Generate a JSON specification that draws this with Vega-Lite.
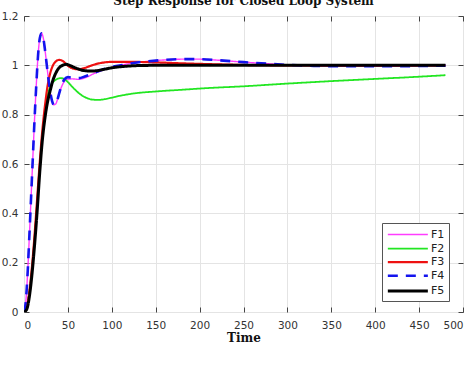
{
  "$schema": "https://vega.github.io/schema/vega-lite/v6.json",
  "width": 439,
  "height": 296,
  "autosize": "none",
  "padding": {"left": 24, "top": 16, "right": 11, "bottom": 60},
  "title": {"text": "Step Response for Closed Loop System", "font": "DejaVu Serif", "fontSize": 12, "fontWeight": "bold", "offset": 3, "color": "#111"},
  "config": {
    "view": {"stroke": "#444", "strokeWidth": 1},
    "axis": {"gridColor": "#e4e4e4", "domain": false, "tickColor": "#444", "tickSize": -5, "labelFont": "DejaVu Sans", "labelFontSize": 10.5, "labelColor": "#333", "titleFont": "DejaVu Serif", "titleFontWeight": "bold", "titleFontSize": 12, "titleColor": "#111"},
    "legend": {"orient": "none", "legendX": 358, "legendY": 207, "title": null, "symbolType": "M-1,0H5", "symbolSize": 178, "labelFont": "DejaVu Sans", "labelFontSize": 11, "labelColor": "#222", "labelOffset": 28, "labelLimit": 20, "strokeColor": "#555", "fillColor": "white", "padding": 4, "rowPadding": 0.6, "columnPadding": 0}
  },
  "data": {"values": [
    {"s":"F1","t":0,"v":0},{"s":"F1","t":2,"v":0.04},{"s":"F1","t":4,"v":0.15},{"s":"F1","t":6,"v":0.3},{"s":"F1","t":8,"v":0.46},{"s":"F1","t":10,"v":0.62},{"s":"F1","t":12,"v":0.78},{"s":"F1","t":14,"v":0.92},{"s":"F1","t":16,"v":1.04},{"s":"F1","t":18,"v":1.11},{"s":"F1","t":20,"v":1.13},{"s":"F1","t":22,"v":1.11},{"s":"F1","t":24,"v":1.06},{"s":"F1","t":26,"v":1.0},{"s":"F1","t":28,"v":0.94},{"s":"F1","t":30,"v":0.89},{"s":"F1","t":32,"v":0.855},{"s":"F1","t":34,"v":0.84},{"s":"F1","t":36,"v":0.843},{"s":"F1","t":38,"v":0.86},{"s":"F1","t":40,"v":0.885},{"s":"F1","t":43,"v":0.915},{"s":"F1","t":46,"v":0.935},{"s":"F1","t":50,"v":0.944},{"s":"F1","t":55,"v":0.945},{"s":"F1","t":62,"v":0.943},{"s":"F1","t":70,"v":0.95},{"s":"F1","t":80,"v":0.967},{"s":"F1","t":90,"v":0.981},{"s":"F1","t":100,"v":0.992},{"s":"F1","t":110,"v":1.0},{"s":"F1","t":120,"v":1.007},{"s":"F1","t":140,"v":1.016},{"s":"F1","t":160,"v":1.022},{"s":"F1","t":180,"v":1.025},{"s":"F1","t":200,"v":1.025},{"s":"F1","t":220,"v":1.021},{"s":"F1","t":250,"v":1.013},{"s":"F1","t":280,"v":1.006},{"s":"F1","t":300,"v":1.002},{"s":"F1","t":330,"v":0.998},{"s":"F1","t":360,"v":0.996},{"s":"F1","t":400,"v":0.996},{"s":"F1","t":440,"v":0.997},{"s":"F1","t":480,"v":0.999},
    {"s":"F2","t":0,"v":0},{"s":"F2","t":3,"v":0.02},{"s":"F2","t":6,"v":0.07},{"s":"F2","t":9,"v":0.16},{"s":"F2","t":12,"v":0.29},{"s":"F2","t":15,"v":0.43},{"s":"F2","t":18,"v":0.58},{"s":"F2","t":21,"v":0.71},{"s":"F2","t":24,"v":0.81},{"s":"F2","t":27,"v":0.88},{"s":"F2","t":30,"v":0.915},{"s":"F2","t":34,"v":0.935},{"s":"F2","t":38,"v":0.945},{"s":"F2","t":42,"v":0.948},{"s":"F2","t":46,"v":0.944},{"s":"F2","t":50,"v":0.932},{"s":"F2","t":55,"v":0.913},{"s":"F2","t":60,"v":0.895},{"s":"F2","t":66,"v":0.878},{"s":"F2","t":72,"v":0.867},{"s":"F2","t":78,"v":0.861},{"s":"F2","t":85,"v":0.86},{"s":"F2","t":92,"v":0.863},{"s":"F2","t":100,"v":0.869},{"s":"F2","t":110,"v":0.877},{"s":"F2","t":125,"v":0.886},{"s":"F2","t":150,"v":0.894},{"s":"F2","t":180,"v":0.901},{"s":"F2","t":210,"v":0.908},{"s":"F2","t":250,"v":0.915},{"s":"F2","t":300,"v":0.926},{"s":"F2","t":350,"v":0.936},{"s":"F2","t":400,"v":0.945},{"s":"F2","t":440,"v":0.952},{"s":"F2","t":480,"v":0.96},
    {"s":"F3","t":0,"v":0},{"s":"F3","t":3,"v":0.02},{"s":"F3","t":6,"v":0.08},{"s":"F3","t":9,"v":0.18},{"s":"F3","t":12,"v":0.31},{"s":"F3","t":15,"v":0.46},{"s":"F3","t":18,"v":0.61},{"s":"F3","t":21,"v":0.74},{"s":"F3","t":24,"v":0.84},{"s":"F3","t":27,"v":0.92},{"s":"F3","t":30,"v":0.97},{"s":"F3","t":33,"v":1.0},{"s":"F3","t":36,"v":1.015},{"s":"F3","t":40,"v":1.022},{"s":"F3","t":44,"v":1.018},{"s":"F3","t":48,"v":1.005},{"s":"F3","t":52,"v":0.993},{"s":"F3","t":57,"v":0.986},{"s":"F3","t":62,"v":0.984},{"s":"F3","t":68,"v":0.988},{"s":"F3","t":75,"v":0.997},{"s":"F3","t":82,"v":1.005},{"s":"F3","t":90,"v":1.011},{"s":"F3","t":100,"v":1.014},{"s":"F3","t":120,"v":1.014},{"s":"F3","t":150,"v":1.012},{"s":"F3","t":180,"v":1.008},{"s":"F3","t":220,"v":1.004},{"s":"F3","t":260,"v":1.001},{"s":"F3","t":300,"v":1.0},{"s":"F3","t":480,"v":1.0},
    {"s":"F4","t":0,"v":0},{"s":"F4","t":2,"v":0.04},{"s":"F4","t":4,"v":0.15},{"s":"F4","t":6,"v":0.3},{"s":"F4","t":8,"v":0.46},{"s":"F4","t":10,"v":0.62},{"s":"F4","t":12,"v":0.78},{"s":"F4","t":14,"v":0.92},{"s":"F4","t":16,"v":1.04},{"s":"F4","t":18,"v":1.11},{"s":"F4","t":20,"v":1.13},{"s":"F4","t":22,"v":1.11},{"s":"F4","t":24,"v":1.06},{"s":"F4","t":26,"v":1.0},{"s":"F4","t":28,"v":0.94},{"s":"F4","t":30,"v":0.89},{"s":"F4","t":32,"v":0.855},{"s":"F4","t":34,"v":0.84},{"s":"F4","t":36,"v":0.843},{"s":"F4","t":38,"v":0.86},{"s":"F4","t":40,"v":0.885},{"s":"F4","t":43,"v":0.92},{"s":"F4","t":46,"v":0.943},{"s":"F4","t":50,"v":0.952},{"s":"F4","t":55,"v":0.95},{"s":"F4","t":62,"v":0.948},{"s":"F4","t":70,"v":0.956},{"s":"F4","t":80,"v":0.97},{"s":"F4","t":90,"v":0.983},{"s":"F4","t":100,"v":0.993},{"s":"F4","t":110,"v":1.0},{"s":"F4","t":120,"v":1.007},{"s":"F4","t":140,"v":1.016},{"s":"F4","t":160,"v":1.022},{"s":"F4","t":180,"v":1.025},{"s":"F4","t":200,"v":1.025},{"s":"F4","t":220,"v":1.021},{"s":"F4","t":250,"v":1.013},{"s":"F4","t":280,"v":1.006},{"s":"F4","t":300,"v":1.002},{"s":"F4","t":330,"v":0.998},{"s":"F4","t":360,"v":0.996},{"s":"F4","t":400,"v":0.996},{"s":"F4","t":440,"v":0.997},{"s":"F4","t":480,"v":0.999},
    {"s":"F5","t":0,"v":0},{"s":"F5","t":3,"v":0.01},{"s":"F5","t":6,"v":0.06},{"s":"F5","t":9,"v":0.15},{"s":"F5","t":12,"v":0.27},{"s":"F5","t":15,"v":0.41},{"s":"F5","t":18,"v":0.57},{"s":"F5","t":21,"v":0.7},{"s":"F5","t":24,"v":0.79},{"s":"F5","t":27,"v":0.855},{"s":"F5","t":30,"v":0.9},{"s":"F5","t":33,"v":0.94},{"s":"F5","t":36,"v":0.967},{"s":"F5","t":40,"v":0.99},{"s":"F5","t":44,"v":1.0},{"s":"F5","t":48,"v":1.004},{"s":"F5","t":52,"v":1.0},{"s":"F5","t":57,"v":0.992},{"s":"F5","t":62,"v":0.985},{"s":"F5","t":68,"v":0.979},{"s":"F5","t":75,"v":0.977},{"s":"F5","t":82,"v":0.978},{"s":"F5","t":90,"v":0.983},{"s":"F5","t":100,"v":0.99},{"s":"F5","t":115,"v":0.996},{"s":"F5","t":130,"v":0.999},{"s":"F5","t":150,"v":1.0},{"s":"F5","t":480,"v":1.0}
  ]},
  "layer": [
    {
      "mark": {"type": "line", "clip": true, "interpolate": "monotone"},
      "encoding": {
        "x": {"field": "t", "type": "quantitative", "scale": {"domain": [0, 500], "nice": false}, "axis": {"title": "Time", "values": [0,50,100,150,200,250,300,350,400,450,500], "labelPadding": 13, "titlePadding": 2}},
        "y": {"field": "v", "type": "quantitative", "scale": {"domain": [0, 1.2], "nice": false}, "axis": {"title": null, "values": [0,0.2,0.4,0.6,0.8,1,1.2], "format": "~g", "labelPadding": 11}},
        "color": {"field": "s", "type": "nominal", "scale": {"domain": ["F1","F2","F3","F4","F5"], "range": ["#ff3cff","#22e622","#ee1111","#1414ee","#000000"]}},
        "strokeDash": {"field": "s", "type": "nominal", "scale": {"domain": ["F1","F2","F3","F4","F5"], "range": [[1,0],[1,0],[1,0],[10,8],[1,0]]}},
        "strokeWidth": {"field": "s", "type": "nominal", "scale": {"domain": ["F1","F2","F3","F4","F5"], "range": [1.4,3,3,3.4,3]}}
      }
    },
    {
      "mark": {"type": "line", "opacity": 0},
      "encoding": {
        "x": {"field": "t", "type": "quantitative", "axis": {"orient": "top", "labels": false, "grid": false, "title": null, "values": [0,50,100,150,200,250,300,350,400,450,500]}},
        "y": {"field": "v", "type": "quantitative", "axis": {"orient": "right", "labels": false, "grid": false, "title": null, "values": [0,0.2,0.4,0.6,0.8,1,1.2]}},
        "detail": {"field": "s"}
      }
    }
  ],
  "resolve": {"axis": {"x": "independent", "y": "independent"}}
}
